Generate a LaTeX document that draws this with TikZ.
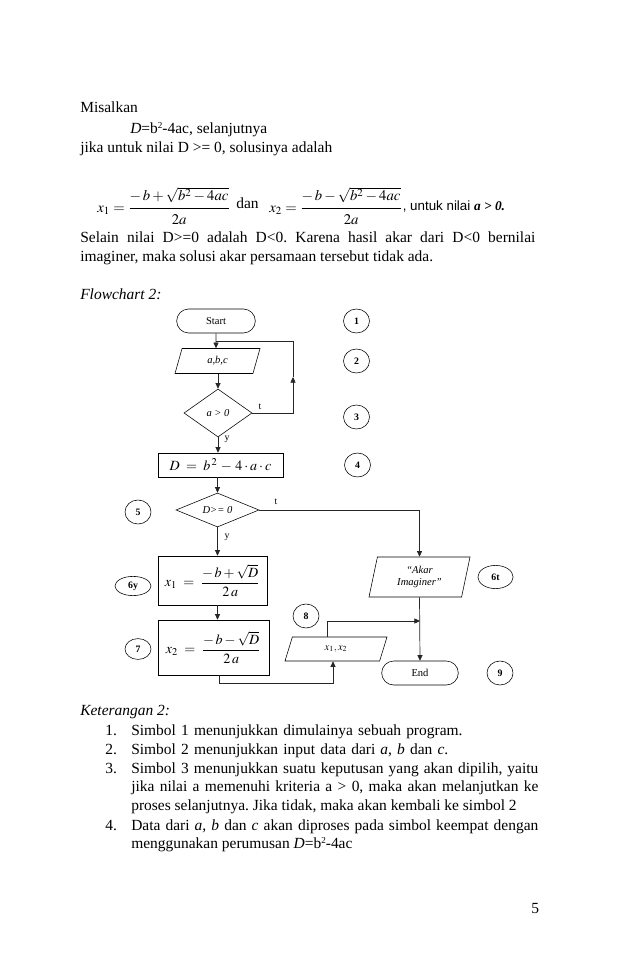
\documentclass[tikz,border=0pt]{standalone}
\usepackage{amsmath}
\usepackage{mathptmx}
\usepackage[no-math]{fontspec}
\setmainfont{Liberation Serif}
\newfontfamily\arialfont{Liberation Sans}
\usetikzlibrary{arrows.meta,positioning,shapes.geometric,shapes.misc,calc}
\frenchspacing
\newcommand{\pangkat}[1]{\raisebox{4.2pt}{\fontsize{6.5}{7}\selectfont #1}}

\tikzset{
    body/.style={font=\fontsize{11}{13.46}\selectfont, inner sep=0pt},
    flowtext/.style={font=\fontsize{7.5}{8.6}\selectfont},
    terminal/.style={draw, rounded rectangle, minimum width=2.2cm, minimum height=0.6cm, flowtext},
    dataio/.style={draw, trapezium, trapezium stretches body, inner xsep=1pt, inner ysep=1pt, flowtext},
    decision/.style={draw, diamond, inner sep=0pt, aspect=2.5, flowtext},
    process/.style={draw, rectangle, inner sep=1pt, font=\fontsize{10}{11}\selectfont},
    marker/.style={draw, ellipse, inner sep=0pt, minimum width=0.65cm, minimum height=0.6cm, font=\fontsize{7}{8}\selectfont\bfseries},
    edgelabel/.style={inner sep=0pt, font=\fontsize{7}{8}\selectfont},
    flow/.style={draw=black!85, line width=0.5pt}
}

\begin{document}
\begin{tikzpicture}[x=0.025cm, y=-0.025cm, >={Triangle[length=4pt,width=3.6pt]}]
\fill[white] (0,0) rectangle (638,977);

% teks pembuka
\node[body, anchor=base west] (misal) at (80,113) {Misalkan};
\node[body, anchor=base west] (defd) at (130,134) {\textit{D}=b\pangkat{2}-4ac, selanjutnya};
\node[body, anchor=base west] (jika) at (80,153) {jika untuk nilai D >= 0, solusinya adalah};

\node[anchor=west, inner sep=0pt, font=\fontsize{10.5}{13}\selectfont] (rumus1) at (97,206) {$x_1 = \dfrac{-\,b+\sqrt{b^2-4ac}\rule[-4pt]{0pt}{4pt}}{2a\rule{0pt}{10pt}}$};
\node[body, anchor=base west] (dan) at (236,209) {dan};
\node[anchor=west, inner sep=0pt, font=\fontsize{10.5}{13}\selectfont] (rumus2) at (269,206) {$x_2 = \dfrac{-\,b-\sqrt{b^2-4ac}\rule[-4pt]{0pt}{4pt}}{2a\rule{0pt}{10pt}}$};
\node[anchor=base west, inner sep=0pt, font=\fontsize{9.5}{12}\selectfont] (untuk) at (rumus2.east |- 0,211) {\arialfont, untuk nilai \textbf{\textit{\rmfamily a > 0.}}};

\node[body, anchor=base west, text width=11.375cm, align=justify] (selain) at (80,243)
    {Selain nilai D>=0 adalah D<0. Karena hasil akar dari D<0 bernilai \linebreak imaginer, maka solusi akar persamaan tersebut tidak ada.};

\node[body, anchor=base west] (fctitle) at (80,300) {\textit{Flowchart 2:}};

% flowchart
\node[terminal] (start) at (216,321) {Start};
\node[dataio, minimum width=2.125cm, minimum height=0.625cm, trapezium left angle=59, trapezium right angle=121] (input) at (217.5,361) {\textit{a,b,c}};
\node[decision, minimum width=1.7cm, minimum height=1.2cm] (cekA) at (218,413) {\textit{a > 0}};
\node[process, minimum width=3.125cm, minimum height=0.6cm] (hitungD) at (220.5,465) {$D \;=\; b^{\,2} \,-\, 4\cdot a\cdot c$};
\node[decision, minimum width=2.075cm, minimum height=0.85cm] (cekD) at (217.5,510) {\textit{D>= 0}};
\node[process, minimum width=2.725cm, minimum height=1.225cm] (akar1) at (212.5,580.5) {$x_1 \;=\; \dfrac{-\,b+\sqrt{D}}{2\,a}$};
\node[process, minimum width=2.775cm, minimum height=1.375cm] (akar2) at (213.5,647.5) {$x_2 \;=\; \dfrac{-\,b-\sqrt{D}}{2\,a}$};
\node[dataio, align=center, minimum width=2.525cm, minimum height=1cm, trapezium left angle=71, trapezium right angle=109] (imaj) at (419.5,577) {\textit{``Akar}\\\textit{Imaginer''}};
\node[dataio, minimum width=2.55cm, minimum height=0.6cm, trapezium left angle=52, trapezium right angle=128] (hasil) at (336,649) {$x_1, x_2$};
\node[terminal, minimum width=2.15cm] (selesai) at (420,673) {End};

% nomor simbol
\node[marker] (m1) at (356.5,321) {1};
\node[marker] (m2) at (356.5,361) {2};
\node[marker] (m3) at (356.5,417) {3};
\node[marker] (m4) at (357.5,465) {4};
\node[marker] (m5) at (138,512) {5};
\node[marker, minimum width=0.9cm, minimum height=0.48cm] (m6y) at (133,586) {6y};
\node[marker, minimum height=0.52cm] (m7) at (138,649) {7};
\node[marker, minimum width=0.88cm, minimum height=0.58cm] (m6t) at (495.5,577) {6t};
\node[marker] (m8) at (306,616) {8};
\node[marker] (m9) at (500,673) {9};

% titik bantu
\coordinate (gabung) at (start.south |- 0,341);
\coordinate (putar) at (293,341);
\coordinate (panah) at (293,377);
\coordinate (temu) at (420,621);
\coordinate (keluar2) at ($(akar2.south)+(5.5,0)$);
\coordinate (masuk) at ($(hasil.south)+(-3,0)$);
\coordinate (naik) at ($(hasil.north)+(-9,0)$);

% panah
\draw[flow, ->] (start) -- (start.south |- input.north);
\draw[flow, ->] (cekA.east) -| (panah);
\draw[flow] (panah) -- (putar) -- (gabung);
\draw[flow, ->] (input.south -| cekA.north) -- (cekA.north);
\draw[flow, ->] (cekA.south) -- (cekA.south |- hitungD.north);
\draw[flow, ->] (hitungD.south -| cekD.north) -- (cekD.north);
\draw[flow, ->] (cekD.east) -| (imaj.north);
\draw[flow, ->] (cekD.south) -- (cekD.south |- akar1.north);
\draw[flow, ->] (akar1.south -| cekD.south) -- (cekD.south |- akar2.north);
\draw[flow, ->] (keluar2) -- ++(0,8) -| (masuk);
\draw[flow, ->] (naik) |- (temu);
\draw[flow, ->] (imaj.south) -- (selesai.north);

\node[edgelabel] (t1) at (260,407) {t};
\node[edgelabel] (y1) at (227,439) {y};
\node[edgelabel] (t2) at (276,502) {t};
\node[edgelabel] (y2) at (227,537) {y};

% keterangan
\node[body, anchor=base west] (ket) at (80,715) {\textit{Keterangan 2:}};
\node[body, anchor=base west] (n1) at (105,735) {1.};
\node[body, anchor=base west] (n2) at (105,754) {2.};
\node[body, anchor=base west] (n3) at (105,773) {3.};
\node[body, anchor=base west] (n4) at (105,830) {4.};
\node[body, anchor=base west, text width=10.175cm] (k1) at (131,735) {Simbol 1 menunjukkan dimulainya sebuah program.};
\node[body, anchor=base west, text width=10.175cm] (k2) at (131,754) {Simbol 2 menunjukkan input data dari \textit{a}, \textit{b} dan \textit{c}.};
\node[body, anchor=base west, text width=10.175cm, align=justify] (k3) at (131,773)
    {Simbol 3 menunjukkan suatu keputusan yang akan dipilih, yaitu \linebreak jika nilai a memenuhi kriteria a > 0, maka akan melanjutkan ke \linebreak proses selanjutnya. Jika tidak, maka akan kembali ke simbol 2};
\node[body, anchor=base west, text width=10.175cm, align=justify] (k4) at (131,830)
    {Data dari \textit{a}, \textit{b} dan \textit{c} akan diproses pada simbol keempat dengan \linebreak menggunakan perumusan \textit{D}=b\pangkat{2}-4ac};

\node[body, anchor=base west] (hal) at (531,913) {5};
\end{tikzpicture}
\end{document}
